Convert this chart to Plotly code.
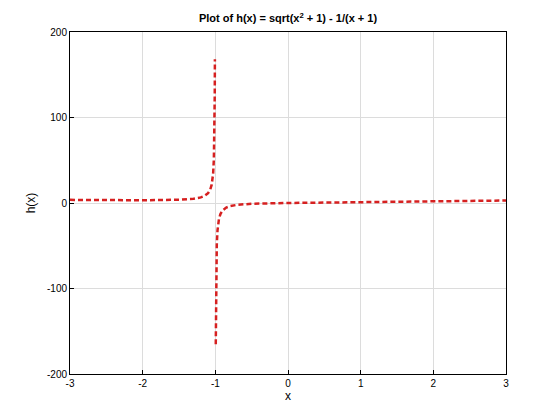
import plotly.graph_objects as go

x_left = [-3, -2.5, -2, -1.5, -1.3, -1.2, -1.15, -1.1, -1.07, -1.05, -1.03, -1.02, -1.015, -1.01, -1.008, -1.006]
y_left = [3.66, 3.36, 3.24, 3.80, 4.97, 6.56, 8.19, 11.49, 15.75, 21.45, 34.77, 51.43, 68.09, 101.42, 126.42, 168.09]
x_right = [-0.994, -0.992, -0.99, -0.985, -0.98, -0.97, -0.95, -0.93, -0.9, -0.85, -0.8, -0.7, -0.5, 0, 0.5, 1, 1.5, 2, 2.5, 3]
y_right = [-165.25, -123.58, -98.59, -65.25, -48.59, -31.92, -18.62, -12.92, -8.65, -5.36, -3.72, -2.11, -0.88, 0, 0.45, 0.91, 1.40, 1.90, 2.41, 2.91]
x_ticks = [-3, -2, -1, 0, 1, 2, 3]
x_labels = ["-3", "-2", "-1", "0", "1", "2", "3"]
y_ticks = [-200, -100, 0, 100, 200]
y_labels = ["-200", "-100", "0", "100", "200"]

xs = x_left + [None] + x_right
ys = y_left + [None] + y_right

fig = go.Figure(go.Scatter(x=xs, y=ys, mode="lines",
                           line=dict(color="#d62020", width=2.5, dash="5px,3px"),
                           connectgaps=False))
ax = dict(showline=True, linecolor="black", mirror=True, ticks="inside",
          ticklen=4, tickcolor="black", showgrid=True, gridcolor="#dcdcdc",
          zeroline=False)
fig.update_layout(
    width=560, height=420, plot_bgcolor="white", paper_bgcolor="white",
    margin=dict(l=62, r=62, t=24, b=54),
    font=dict(family="Liberation Sans", size=10, color="black"),
    title=dict(text="<b>Plot of h(x) = sqrt(x<sup>2</sup> + 1) - 1/(x + 1)</b>",
               x=0.5, xref="paper", y=0.975, yanchor="middle", font=dict(size=11)),
    xaxis=dict(ax, range=[-3, 3], tickvals=x_ticks, ticktext=x_labels,
               title=dict(text="x", standoff=2)),
    yaxis=dict(ax, range=[-200, 200], tickvals=y_ticks, ticktext=y_labels,
               title=dict(text="h(x)", standoff=8)),
    showlegend=False,
)
fig.write_html("out.html")
